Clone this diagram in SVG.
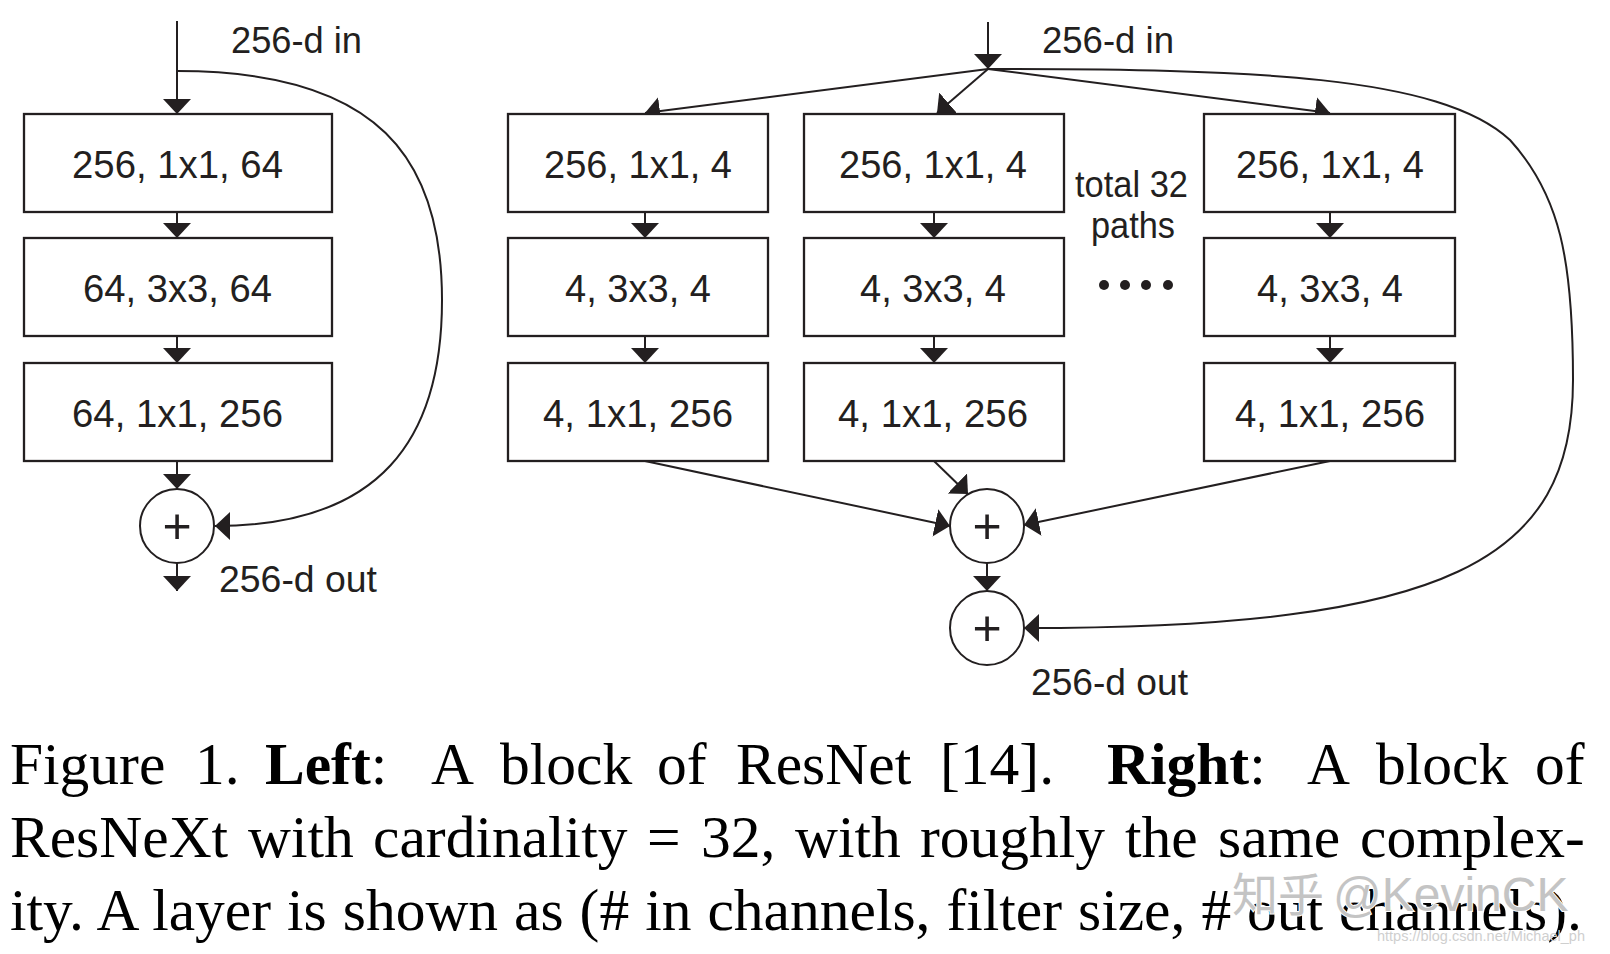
<svg xmlns="http://www.w3.org/2000/svg" width="1610" height="954" viewBox="0 0 1610 954">
<style>
.box{fill:#fff;stroke:#231f20;stroke-width:2.3}
.ln{fill:none;stroke:#231f20;stroke-width:2}
.lbl{font-family:"Liberation Sans",Arial,sans-serif;font-size:39px;fill:#231f20}
.io{font-family:"Liberation Sans",Arial,sans-serif;font-size:36px;fill:#231f20}
.plus{font-family:"Liberation Sans",Arial,sans-serif;font-size:50px;fill:#231f20;text-anchor:middle}
.circ{fill:#fff;stroke:#231f20;stroke-width:2}
.cap{font-family:"Liberation Serif","Times New Roman",serif;font-size:59.5px;fill:#000}
.b{font-weight:bold}
.dot{fill:#231f20}
</style>
<defs>
<marker id="ah" markerUnits="userSpaceOnUse" markerWidth="16" markerHeight="30" viewBox="0 -15 16 30" refX="15" refY="0" orient="auto">
<path d="M0,-14 L15,0 L0,14 Z" fill="#231f20"/>
</marker>
</defs>
<rect width="1610" height="954" fill="#fff"/>

<g id="connectors">
<!-- left block -->
<line class="ln" x1="177" y1="21" x2="177" y2="114" marker-end="url(#ah)"/>
<line class="ln" x1="177" y1="212" x2="177" y2="238" marker-end="url(#ah)"/>
<line class="ln" x1="177" y1="336" x2="177" y2="363" marker-end="url(#ah)"/>
<line class="ln" x1="177" y1="461" x2="177" y2="489" marker-end="url(#ah)"/>
<line class="ln" x1="177" y1="563" x2="177" y2="591" marker-end="url(#ah)"/>
<path class="ln" d="M177,71 C380,71 442,160 442,300 C442,440 380,526 215,526" marker-end="url(#ah)"/>
<!-- right block -->
<line class="ln" x1="988" y1="22" x2="988" y2="69" marker-end="url(#ah)"/>
<line class="ln" x1="988" y1="69" x2="645" y2="113" marker-end="url(#ah)"/>
<line class="ln" x1="988" y1="69" x2="937" y2="113" marker-end="url(#ah)"/>
<line class="ln" x1="988" y1="69" x2="1330" y2="113" marker-end="url(#ah)"/>
<line class="ln" x1="645" y1="212" x2="645" y2="238" marker-end="url(#ah)"/>
<line class="ln" x1="645" y1="336" x2="645" y2="363" marker-end="url(#ah)"/>
<line class="ln" x1="934" y1="212" x2="934" y2="238" marker-end="url(#ah)"/>
<line class="ln" x1="934" y1="336" x2="934" y2="363" marker-end="url(#ah)"/>
<line class="ln" x1="1330" y1="212" x2="1330" y2="238" marker-end="url(#ah)"/>
<line class="ln" x1="1330" y1="336" x2="1330" y2="363" marker-end="url(#ah)"/>
<line class="ln" x1="645" y1="461" x2="950" y2="526" marker-end="url(#ah)"/>
<line class="ln" x1="934" y1="461" x2="968" y2="494" marker-end="url(#ah)"/>
<line class="ln" x1="1330" y1="461" x2="1024" y2="525" marker-end="url(#ah)"/>
<line class="ln" x1="987" y1="563" x2="987" y2="591" marker-end="url(#ah)"/>
<path class="ln" d="M988,69 C1250,69 1440,75 1510,140 C1560,195 1573,260 1573,380 C1573,560 1450,628 1024,628" marker-end="url(#ah)"/>
</g>

<g id="left-in"><text class="io" x="231" y="53" textLength="131" lengthAdjust="spacingAndGlyphs">256-d in</text></g>
<g id="left-conv1"><rect class="box" x="24" y="114" width="308" height="98"/><text class="lbl" x="72" y="178" textLength="211" lengthAdjust="spacingAndGlyphs">256, 1x1, 64</text></g>
<g id="left-conv2"><rect class="box" x="24" y="238" width="308" height="98"/><text class="lbl" x="83" y="302" textLength="189" lengthAdjust="spacingAndGlyphs">64, 3x3, 64</text></g>
<g id="left-conv3"><rect class="box" x="24" y="363" width="308" height="98"/><text class="lbl" x="72" y="427" textLength="211" lengthAdjust="spacingAndGlyphs">64, 1x1, 256</text></g>
<g id="left-add"><circle class="circ" cx="177" cy="526" r="37"/><text class="plus" x="177" y="543">+</text></g>
<g id="left-out"><text class="io" x="219" y="592" textLength="158" lengthAdjust="spacingAndGlyphs">256-d out</text></g>

<g id="right-in"><text class="io" x="1042" y="53" textLength="132" lengthAdjust="spacingAndGlyphs">256-d in</text></g>
<g id="a-conv1"><rect class="box" x="508" y="114" width="260" height="98"/><text class="lbl" x="544" y="178" textLength="188" lengthAdjust="spacingAndGlyphs">256, 1x1, 4</text></g>
<g id="a-conv2"><rect class="box" x="508" y="238" width="260" height="98"/><text class="lbl" x="565" y="302" textLength="146" lengthAdjust="spacingAndGlyphs">4, 3x3, 4</text></g>
<g id="a-conv3"><rect class="box" x="508" y="363" width="260" height="98"/><text class="lbl" x="543" y="427" textLength="190" lengthAdjust="spacingAndGlyphs">4, 1x1, 256</text></g>
<g id="b-conv1"><rect class="box" x="804" y="114" width="260" height="98"/><text class="lbl" x="839" y="178" textLength="188" lengthAdjust="spacingAndGlyphs">256, 1x1, 4</text></g>
<g id="b-conv2"><rect class="box" x="804" y="238" width="260" height="98"/><text class="lbl" x="860" y="302" textLength="146" lengthAdjust="spacingAndGlyphs">4, 3x3, 4</text></g>
<g id="b-conv3"><rect class="box" x="804" y="363" width="260" height="98"/><text class="lbl" x="838" y="427" textLength="190" lengthAdjust="spacingAndGlyphs">4, 1x1, 256</text></g>
<g id="c-conv1"><rect class="box" x="1204" y="114" width="251" height="98"/><text class="lbl" x="1236" y="178" textLength="188" lengthAdjust="spacingAndGlyphs">256, 1x1, 4</text></g>
<g id="c-conv2"><rect class="box" x="1204" y="238" width="251" height="98"/><text class="lbl" x="1257" y="302" textLength="146" lengthAdjust="spacingAndGlyphs">4, 3x3, 4</text></g>
<g id="c-conv3"><rect class="box" x="1204" y="363" width="251" height="98"/><text class="lbl" x="1235" y="427" textLength="190" lengthAdjust="spacingAndGlyphs">4, 1x1, 256</text></g>
<g id="paths-note">
<text class="io" x="1075" y="197" textLength="113" lengthAdjust="spacingAndGlyphs">total 32</text>
<text class="io" x="1091" y="238" textLength="84" lengthAdjust="spacingAndGlyphs">paths</text>
<circle class="dot" cx="1104" cy="285" r="5"/><circle class="dot" cx="1125" cy="285" r="5"/><circle class="dot" cx="1146" cy="285" r="5"/><circle class="dot" cx="1168" cy="285" r="5"/>
</g>
<g id="right-add1"><circle class="circ" cx="987" cy="526" r="37"/><text class="plus" x="987" y="543">+</text></g>
<g id="right-add2"><circle class="circ" cx="987" cy="628" r="37"/><text class="plus" x="987" y="645">+</text></g>
<g id="right-out"><text class="io" x="1031" y="695" textLength="157" lengthAdjust="spacingAndGlyphs">256-d out</text></g>

<g id="caption">
<text class="cap" y="784"><tspan x="10">Figure</tspan><tspan x="195">1.</tspan><tspan x="265" class="b">Left</tspan><tspan>:</tspan><tspan x="431">A</tspan><tspan x="500">block</tspan><tspan x="657">of</tspan><tspan x="736">ResNet</tspan><tspan x="940">[14].</tspan><tspan x="1107" class="b">Right</tspan><tspan>:</tspan><tspan x="1307">A</tspan><tspan x="1376">block</tspan><tspan x="1535">of</tspan></text>
<text class="cap" y="857"><tspan x="10">ResNeXt</tspan><tspan x="248">with</tspan><tspan x="373">cardinality</tspan><tspan x="647">=</tspan><tspan x="701">32,</tspan><tspan x="795">with</tspan><tspan x="920">roughly</tspan><tspan x="1125">the</tspan><tspan x="1218">same</tspan><tspan x="1360">complex-</tspan></text>
<text class="cap" x="10" y="930" style="word-spacing:1.1px">ity. A layer is shown as (# in channels, filter size, # out channels).</text>
</g>

<g id="watermark">
<text x="1232" y="911" style="font-family:'Noto Sans CJK SC','Liberation Sans',sans-serif;font-size:46px;fill:#c4c4c4;stroke:#fff;stroke-width:2;paint-order:stroke">知乎</text>
<text x="1333" y="911" style="font-family:'Liberation Sans',Arial,sans-serif;font-size:48px;fill:#c4c4c4;stroke:#fff;stroke-width:2;paint-order:stroke">@KevinCK</text>
<text x="1377" y="941" style="font-family:'Liberation Sans',Arial,sans-serif;font-size:14.5px;fill:#cfcfcf">https://blog.csdn.net/Michael_ph</text>
</g>
</svg>
